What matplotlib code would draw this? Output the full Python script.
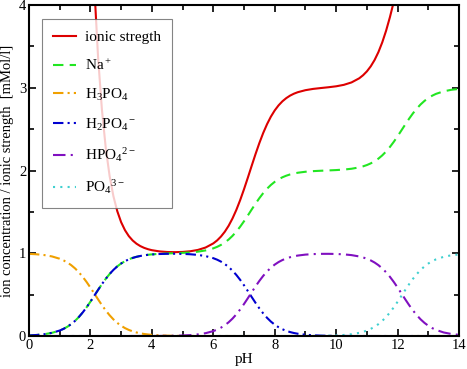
import numpy as np
import matplotlib
matplotlib.use("Agg")
import matplotlib.pyplot as plt

plt.rcParams['font.family'] = ['Liberation Serif', 'DejaVu Serif']
plt.rcParams['mathtext.fontset'] = 'custom'
plt.rcParams['mathtext.rm'] = 'Liberation Serif'
plt.rcParams['mathtext.it'] = 'Liberation Serif:italic'
plt.rcParams['mathtext.default'] = 'regular'

pH = [0.0, 0.25, 0.5, 0.75, 1.0,
      1.125, 1.25, 1.375, 1.5, 1.625, 1.75, 1.875, 2.0, 2.125, 2.25, 2.375, 2.5,
      2.625, 2.75, 2.875, 3.0, 3.125, 3.25, 3.375, 3.5, 3.625, 3.75, 3.875,
      4.0, 4.25, 4.5, 4.75, 5.0, 5.25, 5.5, 5.75,
      6.0, 6.125, 6.25, 6.375, 6.5, 6.625, 6.75, 6.875, 7.0, 7.125, 7.25, 7.375,
      7.5, 7.625, 7.75, 7.875, 8.0, 8.125, 8.25, 8.375, 8.5, 8.625, 8.75,
      9.0, 9.25, 9.5, 9.75, 10.0, 10.25, 10.5, 10.75,
      10.875, 11.0, 11.125, 11.25, 11.375, 11.5, 11.625, 11.75, 11.875, 12.0,
      12.125, 12.25, 12.375, 12.5, 12.625, 12.75, 12.875, 13.0, 13.125,
      13.25, 13.5, 13.75, 14.0]

ionic_strength = [500.0, 281.2, 158.1, 88.9, 50.07,
                  37.58, 28.23, 21.23, 15.99, 12.09, 9.17, 7.017, 5.41, 4.235, 3.369, 2.735, 2.272,
                  1.9347, 1.688, 1.5085, 1.376, 1.2792, 1.2075, 1.1547, 1.1157, 1.0867, 1.0652, 1.0492,
                  1.0373, 1.0224, 1.0153, 1.0134, 1.0162, 1.0242, 1.0404, 1.0695,
                  1.119, 1.1552, 1.2021, 1.2604, 1.3326, 1.4204, 1.5238, 1.6424, 1.7738, 1.9136, 2.0574, 2.1988,
                  2.3322, 2.4538, 2.5602, 2.6512, 2.7264, 2.7874, 2.8364, 2.8748, 2.9052, 2.9285, 2.9464,
                  2.9709, 2.9863, 2.9966, 3.0064, 3.0178, 3.0354, 3.0647, 3.1143,
                  3.1512, 3.1983, 3.2589, 3.3354, 3.4311, 3.5487, 3.6897, 3.8541, 4.0401, 4.2432,
                  4.4568, 4.6719, 4.8801, 5.0739, 5.2473, 5.3976, 5.5245, 5.6286, 5.7126,
                  5.7792, 5.8716, 5.9265, 5.9583]

na = [0.007, 0.0124, 0.0219, 0.0383, 0.0661,
      0.0863, 0.1118, 0.1437, 0.1829, 0.2299, 0.2847, 0.3467, 0.4144, 0.4856, 0.5573, 0.6267, 0.6913,
      0.7491, 0.7992, 0.8415, 0.8763, 0.9043, 0.9265, 0.9440, 0.9574, 0.9678, 0.9759, 0.9820,
      0.9867, 0.9932, 0.9975, 1.0010, 1.0049, 1.0103, 1.0192, 1.0343,
      1.0593, 1.0776, 1.1009, 1.1302, 1.1663, 1.2102, 1.2619, 1.3212, 1.3869, 1.4568, 1.5287, 1.5994,
      1.6661, 1.7269, 1.7801, 1.8256, 1.8632, 1.8937, 1.9182, 1.9374, 1.9525, 1.9641, 1.9730,
      1.9851, 1.9925, 1.9972, 2.0012, 2.0054, 2.0115, 2.0214, 2.0380,
      2.0504, 2.0661, 2.0863, 2.1118, 2.1437, 2.1829, 2.2299, 2.2847, 2.3467, 2.4144,
      2.4856, 2.5573, 2.6267, 2.6913, 2.7491, 2.7992, 2.8415, 2.8762, 2.9042,
      2.9264, 2.9572, 2.9755, 2.9861]

h3po4 = [0.993, 0.9876, 0.9781, 0.9617, 0.9339,
         0.9137, 0.8882, 0.8563, 0.8171, 0.7701, 0.7153, 0.6533, 0.5856, 0.5144, 0.4427, 0.3733, 0.3087,
         0.2509, 0.2008, 0.1585, 0.1238, 0.0958, 0.0736, 0.0562, 0.0428, 0.0324, 0.0245, 0.0185,
         0.0139, 0.0079, 0.0045, 0.0025, 0.0014, 0.0008, 0.00045, 0.00025,
         0.0001, 0.0, 0.0, 0.0, 0.0, 0.0, 0.0, 0.0, 0.0, 0.0, 0.0, 0.0,
         0.0, 0.0, 0.0, 0.0, 0.0, 0.0, 0.0, 0.0, 0.0, 0.0, 0.0,
         0.0, 0.0, 0.0, 0.0, 0.0, 0.0, 0.0, 0.0,
         0.0, 0.0, 0.0, 0.0, 0.0, 0.0, 0.0, 0.0, 0.0, 0.0,
         0.0, 0.0, 0.0, 0.0, 0.0, 0.0, 0.0, 0.0, 0.0,
         0.0, 0.0, 0.0, 0.0]

h2po4 = [0.007, 0.0124, 0.0219, 0.0383, 0.0661,
         0.0863, 0.1118, 0.1437, 0.1829, 0.2299, 0.2847, 0.3467, 0.4144, 0.4856, 0.5573, 0.6267, 0.6913,
         0.7491, 0.7992, 0.8415, 0.8762, 0.9042, 0.9263, 0.9437, 0.9570, 0.9673, 0.9751, 0.9810,
         0.9855, 0.9910, 0.9935, 0.9940, 0.9923, 0.9881, 0.9800, 0.9657,
         0.9406, 0.9224, 0.8991, 0.8698, 0.8337, 0.7898, 0.7381, 0.6788, 0.6131, 0.5432, 0.4713, 0.4006,
         0.3339, 0.2731, 0.2199, 0.1744, 0.1368, 0.1063, 0.0818, 0.0626, 0.0477, 0.0362, 0.0274,
         0.0156, 0.0088, 0.0050, 0.0028, 0.0016, 0.0009, 0.0005, 0.0003,
         0.0002, 0.0002, 0.0001, 0.0001, 0.0, 0.0, 0.0, 0.0, 0.0, 0.0,
         0.0, 0.0, 0.0, 0.0, 0.0, 0.0, 0.0, 0.0, 0.0,
         0.0, 0.0, 0.0, 0.0]

hpo4 = [0.0, 0.0, 0.0, 0.0, 0.0,
        0.0, 0.0, 0.0, 0.0, 0.0, 0.0, 0.0, 0.0, 0.0, 0.0, 0.0, 0.0,
        0.0, 0.0, 0.0, 0.0001, 0.0001, 0.0001, 0.0002, 0.0002, 0.0003, 0.0004, 0.0005,
        0.0006, 0.0011, 0.0020, 0.0035, 0.0063, 0.0111, 0.0196, 0.0343,
        0.0593, 0.0776, 0.1009, 0.1302, 0.1663, 0.2102, 0.2619, 0.3212, 0.3869, 0.4568, 0.5287, 0.5994,
        0.6661, 0.7269, 0.7801, 0.8256, 0.8631, 0.8936, 0.9181, 0.9372, 0.9521, 0.9635, 0.9722,
        0.9837, 0.9899, 0.9928, 0.9932, 0.9914, 0.9867, 0.9776, 0.9614,
        0.9494, 0.9337, 0.9136, 0.8881, 0.8563, 0.8171, 0.7701, 0.7153, 0.6533, 0.5856,
        0.5144, 0.4427, 0.3733, 0.3087, 0.2509, 0.2008, 0.1585, 0.1238, 0.0958,
        0.0736, 0.0428, 0.0245, 0.0139]

po4 = [0.0, 0.0, 0.0, 0.0, 0.0,
       0.0, 0.0, 0.0, 0.0, 0.0, 0.0, 0.0, 0.0, 0.0, 0.0, 0.0, 0.0,
       0.0, 0.0, 0.0, 0.0, 0.0, 0.0, 0.0, 0.0, 0.0, 0.0, 0.0,
       0.0, 0.0, 0.0, 0.0, 0.0, 0.0, 0.0, 0.0,
       0.0, 0.0, 0.0, 0.0, 0.0, 0.0, 0.0, 0.0, 0.0, 0.0, 0.0, 0.0,
       0.0, 0.0, 0.0, 0.0, 0.0001, 0.0001, 0.0001, 0.0002, 0.0002, 0.0003, 0.0004,
       0.0007, 0.0013, 0.0022, 0.0040, 0.0070, 0.0124, 0.0219, 0.0383,
       0.0504, 0.0661, 0.0863, 0.1118, 0.1437, 0.1829, 0.2299, 0.2847, 0.3467, 0.4144,
       0.4856, 0.5573, 0.6267, 0.6913, 0.7491, 0.7992, 0.8415, 0.8762, 0.9042,
       0.9264, 0.9572, 0.9755, 0.9861]

fig = plt.figure(figsize=(4.67, 3.69), dpi=100)
ax = fig.add_axes([0.062, 0.0894, 0.921, 0.897])

lw = 1.5
ax.plot(pH, ionic_strength, color='#dd0000', lw=lw, ls='-', label='ionic stregth')
ax.plot(pH, na, color='#22e622', lw=lw, ls=(0, (5, 3)), label='Na$^+$')
ax.plot(pH, h3po4, color='#f0a000', lw=lw, ls=(0, (5, 2, 1, 2)), label='H$_3$PO$_4$')
ax.plot(pH, h2po4, color='#0000d0', lw=lw, ls=(0, (5, 2, 1, 2, 1, 2)), label='H$_2$PO$_4$$^-$')
ax.plot(pH, hpo4, color='#8010c0', lw=lw, ls=(0, (6, 2.5, 1, 2.5)), label='HPO$_4$$^{2-}$')
ax.plot(pH, po4, color='#40d0d0', lw=lw, ls=(0, (1, 2.5)), label='PO$_4$$^{3-}$')

ax.set_xlim(0, 14)
ax.set_ylim(0, 4)
ax.set_xticks(np.arange(0, 15, 2))
ax.set_xticks(np.arange(0, 15, 1), minor=True)
ax.set_yticks(np.arange(0, 5, 1))
ax.set_yticks(np.arange(0, 4.01, 0.5), minor=True)
ax.tick_params(which='both', direction='in', top=True, right=True, labelsize=10.5, width=1.2, pad=2)
ax.tick_params(which='major', length=5)
ax.tick_params(which='minor', length=3.5)
for lab in ax.get_xticklabels() + ax.get_yticklabels():
    lab.set_fontfamily('Liberation Serif')
for s in ax.spines.values():
    s.set_linewidth(1.5)

ax.set_xlabel('pH', fontsize=11, labelpad=1)
ax.set_ylabel('ion concentration / ionic strength  [mMol/l]', fontsize=10.5)
ax.yaxis.set_label_coords(-0.034, 0.5)

leg = ax.legend(loc='upper left', bbox_to_anchor=(0.03, 0.958), fontsize=11,
                frameon=True, fancybox=False, edgecolor='#666666', borderaxespad=0,
                labelspacing=0.9, handlelength=1.5, borderpad=0.75, handletextpad=0.55)
leg.get_frame().set_linewidth(0.8)

fig.savefig('out.png', dpi=100)
